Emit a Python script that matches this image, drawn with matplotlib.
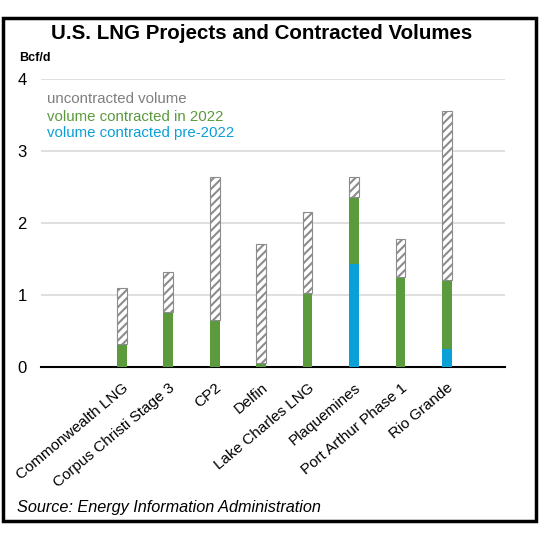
import matplotlib.pyplot as plt
import numpy as np
from matplotlib.patches import Rectangle

plt.rcParams['font.family'] = ['Liberation Sans', 'DejaVu Sans']
plt.rcParams['hatch.color'] = '#7a7a7a'
plt.rcParams['hatch.linewidth'] = 1.5

projects = ['Commonwealth LNG', 'Corpus Christi Stage 3', 'CP2', 'Delfin',
            'Lake Charles LNG', 'Plaquemines', 'Port Arthur Phase 1', 'Rio Grande']
pre_2022 = [0, 0, 0, 0, 0, 1.43, 0, 0.25]
in_2022 = [0.315, 0.765, 0.645, 0.046, 1.03, 0.93, 1.24, 0.955]
uncontracted = [0.775, 0.545, 1.985, 1.664, 1.125, 0.27, 0.53, 2.345]

blue = '#0b9fd8'
green = '#5b9a3d'
grey = '#7f7f7f'

fig = plt.figure(figsize=(5.4, 5.4), dpi=100)
ax = fig.add_axes([0.0754, 0.321, 0.8596, 0.533])

x = np.arange(len(projects))
w = 0.21
pre = np.array(pre_2022)
mid = np.array(in_2022)
ax.bar(x, pre, w, color=blue, zorder=3)
ax.bar(x, mid, w, bottom=pre, color=green, zorder=3)
ax.bar(x, uncontracted, w, bottom=pre + mid, color='white', edgecolor='#8c8c8c',
       linewidth=0.8, hatch='////', zorder=3)

ax.set_xlim(-1.75, 8.25)
ax.set_ylim(0, 4)
ax.set_yticks([0, 1, 2, 3, 4])
ax.yaxis.grid(True, color='#d9d9d9', linewidth=1.2, zorder=0)
for s in ['top', 'right', 'left']:
    ax.spines[s].set_visible(False)
ax.spines['bottom'].set_color('black')
ax.spines['bottom'].set_linewidth(1.5)
ax.tick_params(axis='y', length=0, labelsize=12, pad=10)
ax.tick_params(axis='x', length=0, pad=10)
ax.set_xticks(x)
ax.set_xticklabels(projects, rotation=40, ha='right', rotation_mode='anchor', fontsize=11)

ax.text(-1.61, 3.718, 'uncontracted volume', color=grey, fontsize=10.8, va='center')
ax.text(-1.61, 3.476, 'volume contracted in 2022', color=green, fontsize=10.8, va='center')
ax.text(-1.61, 3.245, 'volume contracted pre-2022', color=blue, fontsize=10.8, va='center')

fig.text(0.4846, 0.938, 'U.S. LNG Projects and Contracted Volumes', fontsize=14.8,
         fontweight='bold', ha='center', va='center')
fig.text(0.035, 0.893, 'Bcf/d', fontsize=9, fontweight='bold', va='center')
fig.text(0.032, 0.061, 'Source: Energy Information Administration', fontsize=11.7,
         style='italic', va='center')

fig.patches.append(Rectangle((0.005, 0.036), 0.988, 0.93, transform=fig.transFigure,
                             fill=False, edgecolor='black', linewidth=2.5))

fig.savefig('out.png', dpi=100)
